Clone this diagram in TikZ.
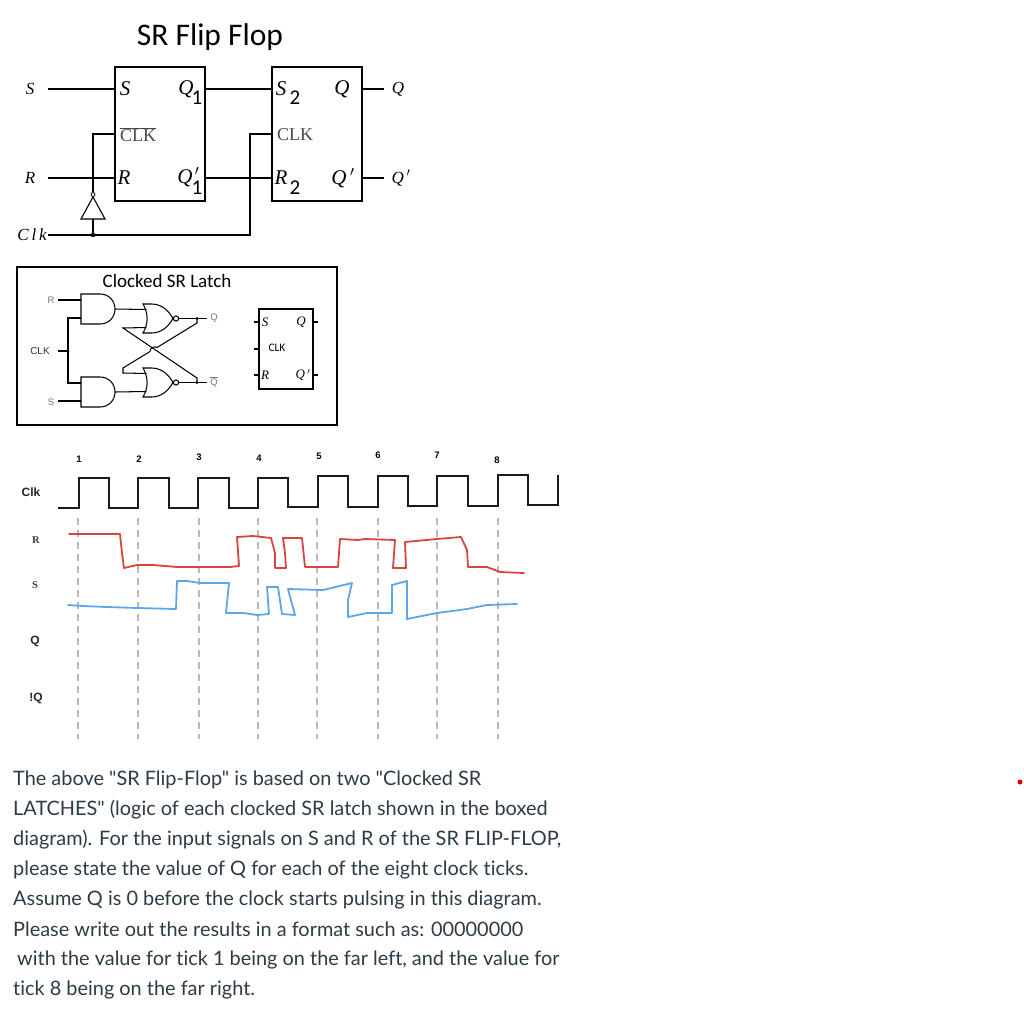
\documentclass[tikz,border=0pt]{standalone}
\usepackage{fontspec}
\newfontfamily\bodyfont[Ligatures=NoCommon]{Lato}
\newfontfamily\titlefont{Carlito}
\newfontfamily\rmserif{Liberation Serif}
\newfontfamily\arialfont{Liberation Sans}
\usepackage{tikz}
\definecolor{redwave}{HTML}{D8453F}
\definecolor{bluewave}{HTML}{5CA6E8}
\definecolor{bodytext}{HTML}{2D3B45}
\tikzset{
  wire/.style={line width=1.1pt},
  thinwire/.style={line width=1.05pt},
  ffbox/.style={draw,line width=1.1pt,minimum width=90pt,minimum height=134pt,inner sep=0pt},
  pin/.style={font=\rmserif\itshape\fontsize{21}{21}\selectfont,inner sep=0pt},
  outpin/.style={font=\rmserif\itshape\fontsize{17}{17}\selectfont,inner sep=0pt},
  sub/.style={font=\titlefont\fontsize{21}{21}\selectfont,inner sep=0pt},
  blurclk/.style={font=\rmserif\fontsize{18}{18}\selectfont,inner sep=0pt,text=black!72},
  latchlbl/.style={font=\arialfont\fontsize{9.5}{9.5}\selectfont,inner sep=0pt,text=black!55},
  minipin/.style={font=\rmserif\itshape\fontsize{13}{13}\selectfont,inner sep=0pt},
  tick/.style={font=\arialfont\bfseries\fontsize{9.5}{9.5}\selectfont,inner sep=0pt},
  sigbold/.style={font=\arialfont\bfseries\fontsize{12}{12}\selectfont,inner sep=0pt,text=black!85},
  sigserif/.style={font=\rmserif\bfseries\fontsize{10.5}{10.5}\selectfont,inner sep=0pt,text=black!75},
  gridline/.style={black!28,line width=1.4pt,dash pattern=on 7pt off 5pt},
  wave/.style={line width=1.8pt,line join=round,line cap=round},
  para/.style={anchor=west,inner sep=0pt,text=bodytext,font=\bodyfont\fontsize{19.9}{19.9}\selectfont},
  andgate/.pic={
    \draw[thinwire] (-17,-15) -- (2,-15) .. controls (11,-15) and (17,-8) .. (17,0)
      .. controls (17,8) and (11,15) .. (2,15) -- (-17,15) -- cycle;
    \coordinate (-in1) at (-17,-9);
    \coordinate (-in2) at (-17,9);
    \coordinate (-out) at (17,0);
  },
  norgate/.pic={
    \draw[thinwire] (-18.5,-14.5) -- (-10,-14.5) .. controls (0,-14.5) and (7,-8) .. (11.5,0)
      .. controls (7,8) and (0,14.5) .. (-10,14.5) -- (-18.5,14.5)
      .. controls (-13,5) and (-13,-5) .. (-18.5,-14.5) -- cycle;
    \draw[thinwire] (14.5,0) circle (2.6);
    \coordinate (-in1) at (-15,-9);
    \coordinate (-in2) at (-15,9);
    \coordinate (-out) at (17,0);
  },
}
\begin{document}
\begin{tikzpicture}[x=1pt,y=-1pt]
  \useasboundingbox (0,0) rectangle (1024,1019);

  % SR flip flop
  \node[font=\titlefont\fontsize{31.5}{31.5}\selectfont,inner sep=0pt] (fftitle) at (210,37) {SR Flip Flop};
  \node[ffbox] (ffa) at (160,134) {};
  \node[ffbox] (ffb) at (317,134) {};

  \node[pin] (sa) at (125,89) {S};
  \node[pin] (qa) at (186,89) {Q};
  \node[sub] (qasub) at (197,98) {1};
  \node[blurclk] (clka) at (138,135) {$\overline{\mbox{CLK}}$};
  \node[pin] (ra) at (124,178) {R};
  \node[pin] (qb) at (185,178) {Q};
  \node[sub] (qbsub) at (197,188) {1};
  \node[pin] (qbprime) at (197,175) {$'$};

  \node[pin] (sb) at (281,89) {S};
  \node[sub] (sbsub) at (295,98) {2};
  \node[pin] (qc) at (342,89) {Q};
  \node[blurclk] (clkb) at (295,135) {CLK};
  \node[pin] (rb) at (281,178) {R};
  \node[sub] (rbsub) at (295,188) {2};
  \node[pin] (qd) at (343,178) {Q\,$'$};

  \node[outpin] (sin) at (30,89) {S};
  \node[outpin] (rin) at (30,178) {R};
  \node[outpin] (clkin) at (32,235) {C\,l\,k};
  \node[outpin] (qout) at (398,89) {Q};
  \node[outpin] (qnout) at (401,178) {Q\,$'$};

  \coordinate (sinw) at (48,89);
  \coordinate (rinw) at (48,178);
  \coordinate (clkw) at (48,235);
  \coordinate (qoutw) at (384,89);
  \coordinate (qnoutw) at (384,178);
  \coordinate (clkdot) at (93,235);
  \coordinate (clkturn) at (250,235);

  \draw[wire] (sinw) -- (ffa.west |- sinw);
  \draw[wire] (rinw) -- (ffa.west |- rinw);
  \draw[wire] (ffa.east |- sinw) -- (ffb.west |- sinw);
  \draw[wire] (ffa.east |- rinw) -- (ffb.west |- rinw);
  \draw[wire] (ffb.east |- sinw) -- (qoutw);
  \draw[wire] (ffb.east |- rinw) -- (qnoutw);
  \draw[wire] (clkw) -- (clkturn) -- (clkturn |- ffb.west) -- (ffb.west);
  \draw[wire] (ffa.west) -- (clkdot |- ffa.west) -- (93,192);
  \fill (clkdot) ellipse (3 and 2);

  % inverter
  \coordinate (invl) at (81,219);
  \coordinate (invr) at (105,219);
  \node[draw,circle,line width=0.8pt,minimum size=4pt,inner sep=0pt,fill=white] (invb) at (93,194.5) {};
  \draw[wire] (invl) -- (invr) -- (invb.south) -- cycle;
  \draw[wire] (93,219) -- (clkdot);

  % Clocked SR latch
  \node[draw,line width=1.6pt,minimum width=320pt,minimum height=158pt,inner sep=0pt] (latchbox) at (177,346) {};
  \node[font=\titlefont\fontsize{19}{19}\selectfont,inner sep=0pt] (latchtitle) at (167,281) {Clocked SR Latch};

  \pic (anda) at (98,309) {andgate};
  \pic (andb) at (98,392) {andgate};
  \pic (nora) at (161.5,318.5) {norgate};
  \pic (norb) at (161.5,382.5) {norgate};

  \node[latchlbl] (rlbl) at (51,300) {R};
  \node[latchlbl] (slbl) at (51,402) {S};
  \node[latchlbl,text=black!80,font=\arialfont\fontsize{10}{10}\selectfont] (clklbl) at (40,351) {CLK};
  \node[latchlbl] (qlbl) at (214,318) {Q};
  \node[latchlbl] (qnlbl) at (214,382) {$\overline{\mbox{Q}}$};

  \coordinate (rw) at (58,300);
  \coordinate (sw) at (58,401);
  \coordinate (clkl) at (58,351);
  \coordinate (clkj) at (68,351);
  \coordinate (qw) at (207,318.5);
  \coordinate (qnw) at (207,382.5);
  \coordinate (qj) at (197,318.5);
  \coordinate (qnj) at (197,382.5);

  \draw[thinwire] (rw) -- (anda-in1);
  \draw[thinwire] (sw) -- (andb-in2);
  \draw[thinwire] (clkl) -- (clkj);
  \draw[thinwire] (anda-in2) -- (clkj |- anda-in2) -- (clkj |- andb-in1) -- (andb-in1);
  \fill (clkj) circle (1.5);
  \draw[thinwire] (anda-out) -- (nora-in1);
  \draw[thinwire] (andb-out) -- (norb-in2);
  \draw[thinwire] (nora-out) -- (qw);
  \draw[thinwire] (norb-out) -- (qnw);
  \fill (qj) circle (1.5);
  \fill (qnj) circle (1.5);

  % cross coupling
  \coordinate (xa) at (123,328);
  \coordinate (xb) at (123,368);
  \coordinate (xc) at (123,373);
  \coordinate (hopa) at (157,347.5);
  \coordinate (hopb) at (150,351.5);
  \draw[thinwire] (nora-in2) -- (xa) -- (197,378) -- (qnj);
  \draw[thinwire] (qj) -- (197,323) -- (hopa) to[bend right=70] (hopb) -- (xb) -- (xc) -- (norb-in1);

  % small block
  \node[draw,thinwire,minimum width=54pt,minimum height=80pt,inner sep=0pt] (mini) at (286,349) {};
  \node[minipin] (mins) at (265,322) {S};
  \node[minipin] (minr) at (265,375) {R};
  \node[minipin] (minq) at (301,322) {Q};
  \node[minipin] (minqn) at (303,375) {Q\,$'$};
  \node[inner sep=0pt,font=\titlefont\fontsize{11.5}{11.5}\selectfont] (minclk) at (277,348) {CLK};
  \draw[thinwire] (mini.west |- mins) -- ++(-4,0);
  \draw[thinwire] (mini.west) -- ++(-4,0);
  \draw[thinwire] (mini.west |- minr) -- ++(-4,0);
  \draw[thinwire] (mini.east |- minq) -- ++(4,0);
  \draw[thinwire] (mini.east |- minqn) -- ++(4,0);

  % Timing diagram
  \foreach \x/\y/\t in {79/459/1,139/459/2,199/457/3,259/458/4,319/456/5,378/455/6,437/455/7,497/460/8}
    \node[tick] (tick\t) at (\x,\y) {\t};
  \node[sigbold] (clkname) at (31,492) {Clk};
  \node[sigserif] (rname) at (36,540) {R};
  \node[sigserif] (sname) at (35,585) {S};
  \node[sigbold] (qname) at (35,641) {Q};
  \node[sigbold] (nqname) at (36,698) {!Q};

  \foreach \x in {78,138,199,258,317,378,437,498}
    \draw[gridline] (\x,518) -- (\x,739);

  \draw[line width=2pt,black!90,line join=miter] (58,508) -- (79,508) -- (79,478) -- (109,478) -- (109,508)
    -- (138,508) -- (138,478) -- (169,478) -- (169,508) -- (198,508) -- (198,478) -- (229,478) -- (229,508)
    -- (258,508) -- (258,478) -- (288,478) -- (288,507) -- (318,507) -- (318,476) -- (348,476) -- (348,507)
    -- (378,507) -- (378,476) -- (408,476) -- (408,506) -- (437,506) -- (437,476) -- (468,476) -- (468,506)
    -- (498,506) -- (498,475) -- (528,475) -- (528,505) -- (558,505) -- (558,475);

  \draw[wave,redwave] (69,534) -- (120,534) -- (122,553) -- (124,568) -- (137,565) -- (153,565) -- (177,567)
    -- (230,567) -- (239,566) -- (237,537) -- (253,536) -- (271,538) -- (275,553) -- (275,568) -- (286,568)
    -- (285,553) -- (283,538) -- (302,538) -- (305,567) -- (338,567) -- (340,539) -- (358,540) -- (365,539)
    -- (395,540) -- (393,568) -- (406,568) -- (405,542) -- (437,539) -- (461,537) -- (467,550) -- (468,567)
    -- (487,567) -- (500,572) -- (524,573);

  \draw[wave,bluewave] (68,605) -- (83,606) -- (107,607) -- (138,608) -- (176,609) -- (177,581) -- (187,581)
    -- (200,583) -- (229,583) -- (226,613) -- (243,613) -- (257,615) -- (269,614) -- (267,587) -- (278,587)
    -- (282,614) -- (295,615) -- (288,589) -- (323,590) -- (352,583) -- (348,600) -- (348,617) -- (367,613)
    -- (392,613) -- (392,585) -- (407,581) -- (407,619) -- (437,613) -- (467,609) -- (487,605) -- (517,604);

  % Question text
  \node[para] (line1) at (13,779.5) {The above "SR Flip-Flop" is based on two "Clocked SR};
  \node[para] (line2) at (13,809.5) {LATCHES" (logic of each clocked SR latch shown in the boxed};
  \node[para] (line3) at (13,839.5) {diagram). For the input signals on S and R of the SR FLIP-FLOP,};
  \node[para] (line4) at (13,869.5) {please state the value of Q for each of the eight clock ticks.};
  \node[para] (line5) at (13,899.5) {Assume Q is 0 before the clock starts pulsing in this diagram.};
  \node[para] (line6) at (13,929.5) {Please write out the results in a format such as: 00000000};
  \node[para] (line7) at (17,959.5) {with the value for tick 1 being on the far left, and the value for};
  \node[para] (line8) at (13,989.5) {tick 8 being on the far right.};
  \fill[red!85!black] (1020,782) circle (2.5);
\end{tikzpicture}
\end{document}
